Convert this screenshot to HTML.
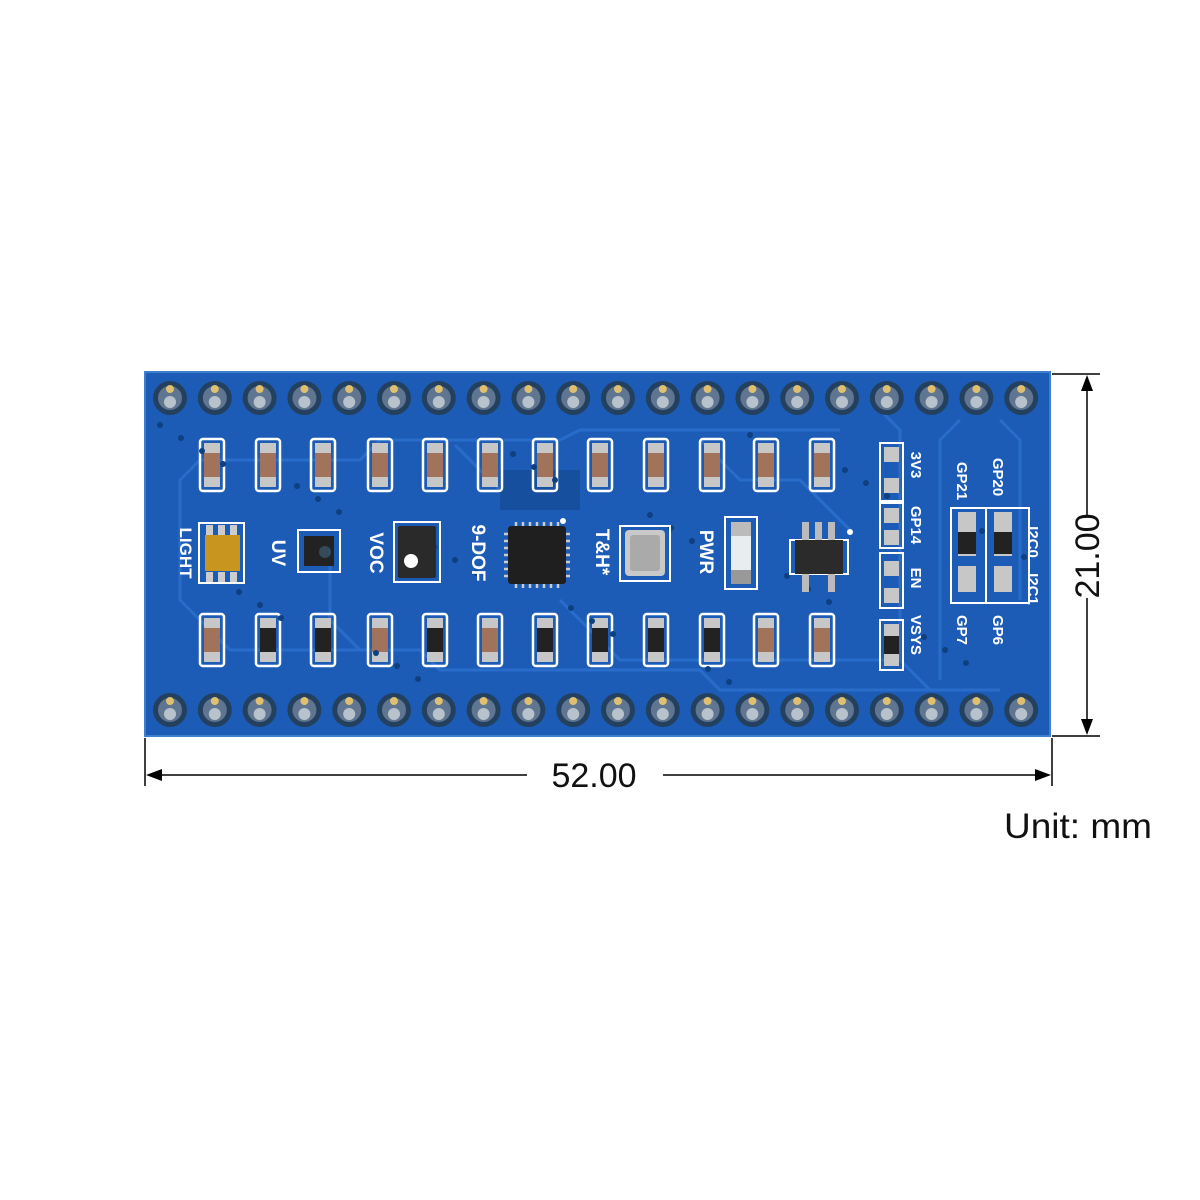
<!DOCTYPE html>
<html><head><meta charset="utf-8"><style>
html,body{margin:0;padding:0;background:#fff;}
svg{display:block}
</style></head><body>
<svg id="s" width="1200" height="1200" viewBox="0 0 1200 1200" xmlns="http://www.w3.org/2000/svg">
<rect width="1200" height="1200" fill="#fff"/>
<rect x="145" y="372" width="905" height="364" fill="#1d5cb6"/>
<rect x="145" y="372" width="905" height="364" fill="none" stroke="#3f7fd0" stroke-width="2"/>
<g id="traces" fill="none" stroke="#2a6fcc" stroke-width="3" opacity="0.9">
<path d="M180 500 L180 480 L200 460 L360 460 L380 440 L560 440 L580 430 L840 430"/>
<path d="M180 500 L180 600 L230 650 L420 650 L440 670 L700 670 L720 690 L1000 690"/>
<path d="M455 445 L500 490 L520 490"/>
<path d="M560 600 L620 660 L900 660 L930 690"/>
<path d="M880 410 L900 430 L900 660"/>
<path d="M960 420 L940 440 L940 680"/>
<path d="M1000 420 L1020 440 L1020 600"/>
<path d="M330 560 L330 620 L360 650"/>
<path d="M700 440 L740 480 L800 480 L850 530"/>
</g>
<rect x="500" y="470" width="80" height="40" fill="#164f9e"/>
<g id="dyn"></g>
<rect x="199" y="523" width="45" height="60" fill="none" stroke="#fff" stroke-width="2"/>
<rect x="205" y="535" width="35" height="36" fill="#c8961e"/>
<rect x="206" y="525" width="7" height="10" fill="#ccc"/><rect x="218" y="525" width="7" height="10" fill="#ccc"/><rect x="230" y="525" width="7" height="10" fill="#ccc"/>
<rect x="206" y="572" width="7" height="10" fill="#ccc"/><rect x="218" y="572" width="7" height="10" fill="#ccc"/><rect x="230" y="572" width="7" height="10" fill="#ccc"/>
<rect x="298" y="530" width="42" height="42" fill="none" stroke="#fff" stroke-width="2"/>
<rect x="304" y="536" width="30" height="30" fill="#222"/>
<circle cx="325" cy="552" r="6" fill="#354a5a"/>
<rect x="394" y="522" width="46" height="60" fill="none" stroke="#fff" stroke-width="2"/>
<rect x="398" y="526" width="38" height="52" fill="#2a2a2a" rx="2"/>
<circle cx="411" cy="561" r="7" fill="#fff"/>
<rect x="508" y="526" width="58" height="58" fill="#1f1f1f" rx="3"/>
<g stroke="#ccc" stroke-width="2.5">
<path d="M516 522v4M523 522v4M530 522v4M537 522v4M544 522v4M551 522v4M558 522v4"/>
<path d="M516 584v4M523 584v4M530 584v4M537 584v4M544 584v4M551 584v4M558 584v4"/>
<path d="M504 534h4M504 541h4M504 548h4M504 555h4M504 562h4M504 569h4M504 576h4"/>
<path d="M566 534h4M566 541h4M566 548h4M566 555h4M566 562h4M566 569h4M566 576h4"/>
</g>
<circle cx="563" cy="521" r="3" fill="#fff"/>
<rect x="620" y="526" width="50" height="55" fill="none" stroke="#fff" stroke-width="2"/>
<rect x="625" y="530" width="40" height="46" fill="#c9c9c9" rx="4"/>
<rect x="630" y="535" width="30" height="36" fill="#aaa" rx="3"/>
<rect x="725" y="517" width="32" height="72" fill="none" stroke="#fff" stroke-width="2"/>
<rect x="731" y="522" width="20" height="62" fill="#e8eef0"/>
<rect x="731" y="522" width="20" height="14" fill="#bbb"/>
<rect x="731" y="570" width="20" height="14" fill="#999"/>
<rect x="790" y="540" width="58" height="34" fill="none" stroke="#fff" stroke-width="2"/>
<rect x="795" y="540" width="48" height="34" fill="#2b2b2b"/>
<rect x="802" y="522" width="7" height="18" fill="#bbb"/><rect x="815" y="522" width="7" height="18" fill="#bbb"/><rect x="828" y="522" width="7" height="18" fill="#bbb"/>
<rect x="802" y="574" width="7" height="18" fill="#bbb"/><rect x="828" y="574" width="7" height="18" fill="#bbb"/>
<circle cx="850" cy="532" r="3" fill="#fff"/>
<g fill="none" stroke="#fff" stroke-width="2">
<rect x="880" y="443" width="23" height="58"/>
<rect x="880" y="503" width="23" height="45"/>
<rect x="880" y="553" width="23" height="55"/>
<rect x="880" y="620" width="23" height="50"/>
<rect x="951" y="508" width="78" height="95"/>
<path d="M986 508v95"/>
</g>
<g fill="#c7c7c7">
<rect x="884" y="447" width="15" height="15"/><rect x="884" y="478" width="15" height="15"/>
<rect x="884" y="508" width="15" height="15"/><rect x="884" y="530" width="15" height="15"/>
<rect x="884" y="561" width="15" height="15"/><rect x="884" y="588" width="15" height="15"/>
<rect x="884" y="624" width="15" height="42"/>
<rect x="958" y="512" width="18" height="80"/><rect x="994" y="512" width="18" height="80"/>
</g>
<rect x="884" y="636" width="15" height="18" fill="#222"/>
<rect x="958" y="532" width="18" height="22" fill="#222"/><rect x="994" y="532" width="18" height="22" fill="#222"/>
<rect x="958" y="556" width="18" height="10" fill="#1d5cb6"/><rect x="994" y="556" width="18" height="10" fill="#1d5cb6"/>
<g fill="#fff" font-family="Liberation Sans, sans-serif" font-weight="bold" font-size="17">
<text transform="translate(180,553) rotate(90)" text-anchor="middle">LIGHT</text>
<text transform="translate(272,553) rotate(90)" text-anchor="middle" font-size="19">UV</text>
<text transform="translate(370,553) rotate(90)" text-anchor="middle" font-size="19">VOC</text>
<text transform="translate(472,553) rotate(90)" text-anchor="middle" font-size="19">9-DOF</text>
<text transform="translate(596,552) rotate(90)" text-anchor="middle" font-size="19">T&amp;H*</text>
<text transform="translate(700,552) rotate(90)" text-anchor="middle" font-size="19">PWR</text>
<text transform="translate(911,465) rotate(90)" text-anchor="middle" font-size="15">3V3</text>
<text transform="translate(911,525) rotate(90)" text-anchor="middle" font-size="15">GP14</text>
<text transform="translate(911,578) rotate(90)" text-anchor="middle" font-size="15">EN</text>
<text transform="translate(911,635) rotate(90)" text-anchor="middle" font-size="15">VSYS</text>
<text transform="translate(957,481) rotate(90)" text-anchor="middle" font-size="15">GP21</text>
<text transform="translate(993,477) rotate(90)" text-anchor="middle" font-size="15">GP20</text>
<text transform="translate(1028,542) rotate(90)" text-anchor="middle" font-size="15">I2C0</text>
<text transform="translate(1028,589) rotate(90)" text-anchor="middle" font-size="15">I2C1</text>
<text transform="translate(957,630) rotate(90)" text-anchor="middle" font-size="15">GP7</text>
<text transform="translate(993,630) rotate(90)" text-anchor="middle" font-size="15">GP6</text>
</g>
<g stroke="#000" stroke-width="1.5" fill="none">
<path d="M1052 374H1100M1052 736H1100"/>
<path d="M1087 378V515M1087 598V732"/>
<path d="M145 738V786M1052 738V786"/>
<path d="M149 775H527M663 775H1048"/>
</g>
<g fill="#000">
<path d="M1087 375l-6 16h12z"/><path d="M1087 735l-6 -16h12z"/>
<path d="M146 775l16 -6v12z"/><path d="M1051 775l-16 -6v12z"/>
</g>
<g font-family="Liberation Sans, sans-serif" fill="#111">
<text x="594" y="787" text-anchor="middle" font-size="34">52.00</text>
<text transform="translate(1099,556) rotate(-90)" text-anchor="middle" font-size="34">21.00</text>
<text x="1004" y="838" font-size="35" textLength="148" lengthAdjust="spacingAndGlyphs">Unit: mm</text>
</g>
</svg>
<script>
var ns="http://www.w3.org/2000/svg",g=document.getElementById("dyn");
function el(t,a){var e=document.createElementNS(ns,t);for(var k in a)e.setAttribute(k,a[k]);g.appendChild(e);return e;}
for(var i=0;i<20;i++){var x=170+i*44.8;
[398,710].forEach(function(y){
el("circle",{cx:x,cy:y,r:17,fill:"#24405f"});
el("circle",{cx:x,cy:y,r:12,fill:"#5f7590"});
el("circle",{cx:x,cy:y+4,r:6,fill:"#b8c2cc"});
el("circle",{cx:x,cy:y-9,r:4,fill:"#e0c070"});
});}
var xs=[212,268,323,380,435,490,545,600,656,712,766,822];
var bot=[0,1,1,0,1,0,1,1,1,1,0,0];
var top=[0,0,1,0,0,0,1,0,0,1,1,0];
xs.forEach(function(x,i){
[465,640].forEach(function(y,j){
el("rect",{x:x-12,y:y-26,width:24,height:52,fill:"none",stroke:"#fff","stroke-width":2.5,rx:3});
el("rect",{x:x-8,y:y-22,width:16,height:44,fill:"#c7c7c7"});
var dark=j?bot[i]:top[i];
el("rect",{x:x-8,y:y-12,width:16,height:24,fill:dark?"#222":"#a0735a"});
});});
for(var k=0;k<40;k++){el("circle",{cx:160+((k*137)%880),cy:425+((k*61)%260),r:3,fill:"#0e3f80"});}
</script>
</body></html>
